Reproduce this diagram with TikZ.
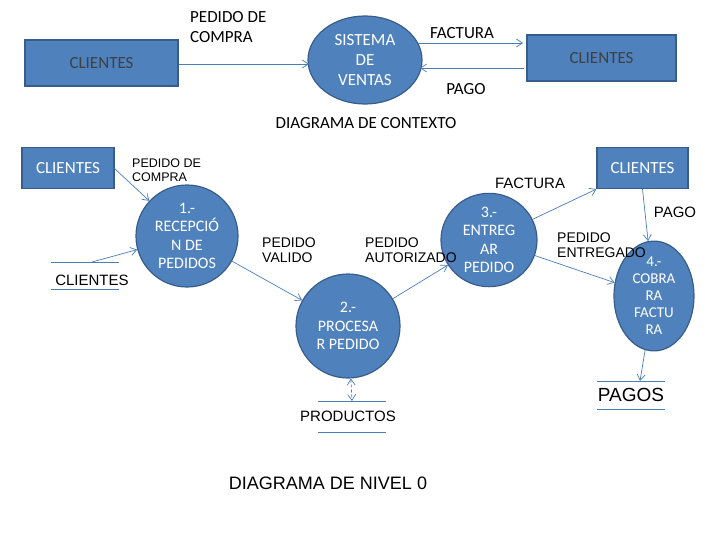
\documentclass[tikz,border=0pt]{standalone}
\usepackage{fontspec}
\usetikzlibrary{arrows.meta,shapes.geometric}
\setmainfont{Liberation Sans}
\newfontfamily\carl{Carlito}
\definecolor{myblue}{HTML}{4F81BD}
\definecolor{myedge}{HTML}{385D8A}
\definecolor{myarrow}{HTML}{4A7EBB}
\begin{document}
\begin{tikzpicture}[x=1pt,y=-1pt,
  bl/.style={fill=myblue,draw=myedge,line width=1.2pt},
  bt/.style={font=\carl\fontsize{16}{18.5}\selectfont,text=white,align=center},
  ar/.style={draw=myarrow,line width=0.7pt,-{Straight Barb[length=6pt,width=8pt]}},
  lb/.style={font=\fontsize{14}{14.5}\selectfont,align=left,anchor=north west,inner sep=0pt},
  st/.style={draw=myarrow,line width=0.8pt}]
\useasboundingbox (0,0) rectangle (728,546);
% context diagram
\node[bl,minimum width=153pt,minimum height=46pt,font=\carl\fontsize{17}{19}\selectfont,text=black!75] (c1) at (101.5,63) {CLIENTES};
\node[bl,ellipse,minimum width=114pt,minimum height=88pt,inner sep=0pt,font=\carl\fontsize{17}{20}\selectfont,text=white,align=center] (sv) at (365,60) {SISTEMA\\DE\\VENTAS};
\node[bl,minimum width=149pt,minimum height=46pt,font=\carl\fontsize{17}{19}\selectfont,text=black!75] (c2) at (601.5,58) {CLIENTES};
\coordinate (a1) at (178,64); \coordinate (a2) at (309,64);
\draw[ar] (c1.east |- a1) -- (a2);
\coordinate (f1) at (418,43); \coordinate (f2) at (523,43);
\draw[ar] (f1) -- (f2);
\coordinate (p1) at (524,68); \coordinate (p2) at (420,68);
\draw[ar] (p1) -- (p2);
\node[font=\carl\fontsize{17}{20}\selectfont,align=left,anchor=north west,inner sep=0pt] (t1) at (190,11) {PEDIDO DE\\COMPRA};
\node[font=\carl\fontsize{17}{19}\selectfont,inner sep=0pt] (t2) at (462,33) {FACTURA};
\node[font=\carl\fontsize{17}{19}\selectfont,inner sep=0pt] (t3) at (466,89) {PAGO};
\node[font=\carl\fontsize{17}{19}\selectfont,inner sep=0pt] (t4) at (366,123) {DIAGRAMA DE CONTEXTO};
% level 0
\node[bl,minimum width=92pt,minimum height=41pt,font=\carl\fontsize{17}{19}\selectfont,text=white] (L1) at (68,168) {CLIENTES};
\node[bl,minimum width=91pt,minimum height=41pt,font=\carl\fontsize{17}{19}\selectfont,text=white] (R1) at (642.5,168) {CLIENTES};
\node[bl,circle,minimum size=102pt,inner sep=0pt,bt] (p1n) at (187,236) {1.-\\RECEPCIÓ\\N DE\\PEDIDOS};
\node[bl,circle,minimum size=104pt,inner sep=0pt,bt] (p2n) at (348,326) {2.-\\PROCESA\\R PEDIDO};
\node[bl,ellipse,minimum width=96pt,minimum height=90pt,inner sep=0pt,bt] (p3n) at (489,240) {3.-\\ENTREG\\AR\\PEDIDO};
\node[bl,ellipse,minimum width=80pt,minimum height=82pt,inner sep=0pt,bt,font=\carl\fontsize{15}{17}\selectfont] (p4n) at (654,296) {4.-\\COBRA\\RA\\FACTU\\RA};
% stores
\draw[st] (51,262) -- (119,262);
\draw[st] (51,289) -- (119,289);
\node[font=\fontsize{15}{17}\selectfont,inner sep=0pt] (s1) at (92,280) {CLIENTES};
\draw[st] (318,401) -- (386,401);
\draw[st] (318,432) -- (386,432);
\node[font=\fontsize{15}{17}\selectfont,inner sep=0pt] (s2) at (348,416) {PRODUCTOS};
\draw[st] (597,381) -- (665,381);
\draw[st] (597,409) -- (665,409);
\node[font=\fontsize{19}{21}\selectfont,inner sep=0pt] (s3) at (631,395) {PAGOS};
% flows
\coordinate (e1) at (92,262);
\draw[ar] (e1) -- (p1n);
\coordinate (e0) at (114,168);
\draw[ar] (e0) -- (p1n);
\draw[ar] (p1n) -- (p2n);
\draw[ar] (p2n) -- (p3n);
\draw[ar] (p3n) -- (R1.south west);
\draw[ar] (R1.south) -- (p4n);
\draw[ar] (p3n) -- (p4n);
\coordinate (e3) at (640,381);
\draw[ar] (p4n) -- (e3);
\coordinate (e2) at (352,401);
\draw[draw=myarrow,line width=0.7pt,densely dashed,{Straight Barb[length=6pt,width=8pt]}-{Straight Barb[length=6pt,width=8pt]}] (p2n) -- (e2);
% labels
\node[lb,font=\fontsize{12.5}{13.5}\selectfont] (l1) at (132,159) {PEDIDO DE\\COMPRA};
\node[lb] (l2) at (262,238) {PEDIDO\\VALIDO};
\node[lb] (l3) at (365,238) {PEDIDO\\AUTORIZADO};
\node[font=\fontsize{15}{17}\selectfont,inner sep=0pt] (l4) at (530,183) {FACTURA};
\node[font=\fontsize{15}{17}\selectfont,inner sep=0pt] (l5) at (675,212) {PAGO};
\node[lb] (l6) at (557,233) {PEDIDO\\ENTREGADO};
\node[font=\fontsize{18}{20}\selectfont,inner sep=0pt] (t5) at (328,483) {DIAGRAMA DE NIVEL 0};
\end{tikzpicture}
\end{document}
